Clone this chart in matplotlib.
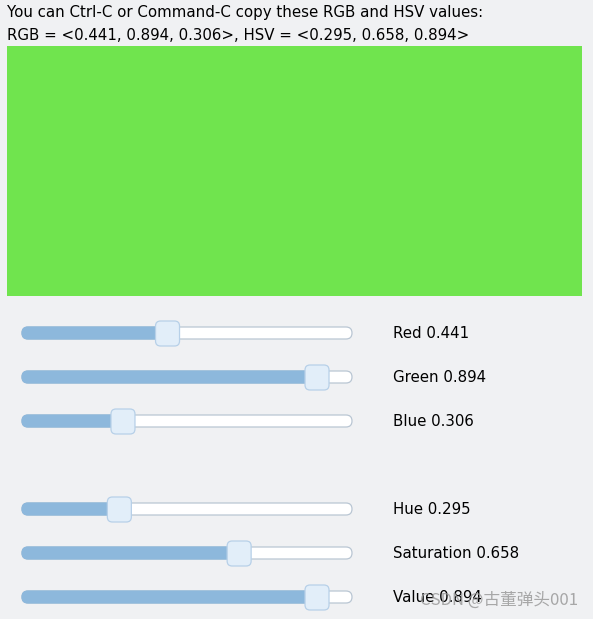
import matplotlib.pyplot as plt
from matplotlib.patches import FancyBboxPatch, Rectangle

rgb = [0.441, 0.894, 0.306]
hsv = [0.295, 0.658, 0.894]
names = ["Red", "Green", "Blue", "Hue", "Saturation", "Value"]
values = rgb + hsv
rows_y = [333, 377, 421, 509, 553, 597]

W, H = 593, 619
fig = plt.figure(figsize=(W / 100, H / 100), dpi=100)
fig.patch.set_facecolor("#f0f1f3")
ax = fig.add_axes([0, 0, 1, 1])
ax.set_xlim(0, W)
ax.set_ylim(H, 0)
ax.axis("off")

font = ["DejaVu Sans"]
cjk = ["Noto Sans CJK SC", "DejaVu Sans"]
ax.text(7, 12, "You can Ctrl-C or Command-C copy these RGB and HSV values:",
        fontsize=10.8, va="center", family=font)
ax.text(7, 35, "RGB = <%.3f, %.3f, %.3f>, HSV = <%.3f, %.3f, %.3f>" % tuple(rgb + hsv),
        fontsize=10.8, va="center", family=font)

ax.add_patch(Rectangle((7, 46), 575, 250, facecolor=tuple(rgb), edgecolor="none"))

x0, x1 = 22, 352
tw = x1 - x0
for name, v, y in zip(names, values, rows_y):
    ax.add_patch(FancyBboxPatch((x0, y - 6), tw, 12, boxstyle="round,pad=0,rounding_size=6",
                                facecolor="white", edgecolor="#b9c6d3", lw=0.9))
    xv = x0 + v * tw
    ax.add_patch(FancyBboxPatch((x0, y - 6), xv - x0, 12, boxstyle="round,pad=0,rounding_size=6",
                                facecolor="#8db8dc", edgecolor="#8db8dc", lw=0.9))
    ax.add_patch(FancyBboxPatch((xv - 12, y - 12), 24, 25, boxstyle="round,pad=0,rounding_size=5",
                                facecolor="#e2eef9", edgecolor="#b7d0e8", lw=0.9, zorder=3))
    ax.text(393, y, "%s %.3f" % (name, v), fontsize=10.8, va="center", family=font, zorder=4)

ax.text(578, 600, "CSDN @古董弹头001", fontsize=12, ha="right", va="center",
        color="#9a9a9a", alpha=0.85, family=cjk, zorder=5)

fig.savefig("out.png", dpi=100, facecolor=fig.get_facecolor())
